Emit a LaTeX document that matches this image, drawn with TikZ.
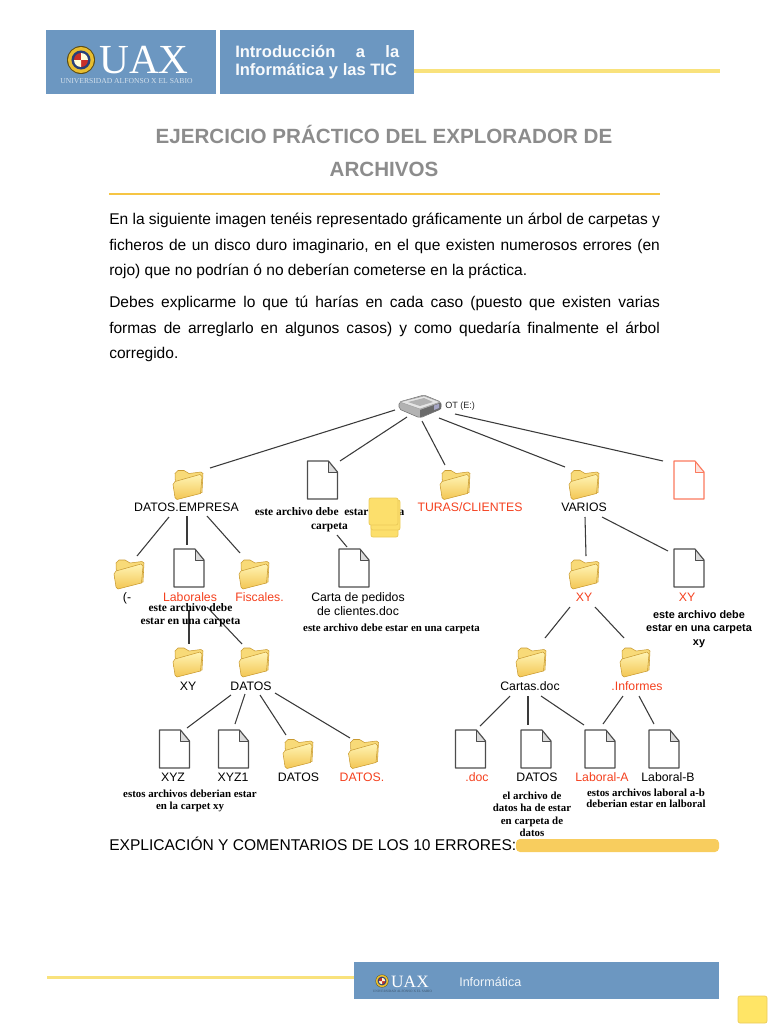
\documentclass[tikz,border=0pt]{standalone}
\usepackage{fontspec}
\setmainfont{Liberation Sans}
\newfontfamily\notefont{Liberation Serif}[Scale=1]
\definecolor{uaxblue}{HTML}{6C97C1}
\definecolor{barline}{HTML}{F9E27C}
\definecolor{rulegold}{HTML}{F6C544}
\definecolor{barorange}{HTML}{F8CD5E}
\definecolor{stickyfill}{HTML}{FCDF6C}
\definecolor{stickyedge}{HTML}{EBCB5A}
\definecolor{squarefill}{HTML}{FFE566}
\definecolor{titlegray}{HTML}{8C8C8C}
\definecolor{errred}{HTML}{F4401E}
\definecolor{errfile}{HTML}{FB7A5E}
\definecolor{linkgray}{HTML}{3A3A3A}
\definecolor{filegray}{HTML}{4D4D4D}
\definecolor{foldA}{HTML}{FFF4B4}
\definecolor{foldB}{HTML}{F3C653}
\definecolor{foldC}{HTML}{F8DA78}
\definecolor{foldE}{HTML}{C99A30}
\definecolor{sealgold}{HTML}{E8BE30}
\definecolor{sealnavy}{HTML}{27407A}
\definecolor{sealred}{HTML}{C8302A}
\tikzset{
  conn/.style={draw=linkgray,line width=0.8pt},
  lab/.style={anchor=base,inner sep=0pt,font=\fontsize{9.2pt}{11pt}\selectfont,text=black},
  redlab/.style={lab,text=errred},
  note/.style={anchor=base,inner sep=0pt,font=\notefont\bfseries\fontsize{8.15pt}{9pt}\selectfont,text=black},
  bignote/.style={anchor=base,inner sep=0pt,font=\notefont\bfseries\fontsize{8.6pt}{9pt}\selectfont,text=black},
  sansnote/.style={anchor=base,inner sep=0pt,font=\bfseries\fontsize{8.15pt}{9pt}\selectfont,text=black},
  headtext/.style={anchor=base west,inner sep=0pt,text=white!95!uaxblue,font=\bfseries\fontsize{12.4pt}{14pt}\selectfont},
  titletext/.style={anchor=base,inner sep=0pt,text=titlegray,font=\bfseries\fontsize{15.45pt}{17pt}\selectfont},
  bodytext/.style={anchor=north west,inner sep=0pt,text width=413pt,align=justify,font=\fontsize{11.65pt}{19.2pt}\selectfont},
  sticky/.style={fill=stickyfill,draw=stickyedge,line width=0.6pt,rounded corners=1.5pt},
  pics/folder/.style={code={
    \path[fill=foldC,draw=foldE,line width=0.4pt,line join=round]
      (-13,-11) -- (-10,-14) -- (-4,-14) -- (1,-11) -- (13,-12.5) -- (15,-11) -- (14,8) -- (-12,14) -- cycle;
    \path[top color=foldA,bottom color=foldB,draw=foldE,line width=0.4pt,line join=round]
      (-15,0) -- (-13,-3) -- (12,-10) -- (14,-8) -- (12.5,9) -- (-11,15) -- (-13,13) -- cycle;
  }},
  pics/docfile/.style={code={
    \path[fill=white,draw=#1,line width=0.85pt,line join=round]
      (-15,-19) -- (6,-19) -- (15,-8) -- (15,19) -- (-15,19) -- cycle;
    \path[fill=#1,fill opacity=0.2] (6,-19) -- (6,-8) -- (15,-8) -- cycle;
    \path[draw=#1,line width=0.6pt,line join=round] (6,-19) -- (6,-8) -- (15,-8);
  }},
  pics/seal/.style={code={
    \fill[black!60!sealgold] (0,0) circle[radius=#1];
    \fill[sealgold] (0,0) circle[radius=0.93*#1];
    \fill[sealnavy] (0,0) circle[radius=0.68*#1];
    \fill[sealred] (0,0) -- (0.5*#1,0) arc[start angle=0,end angle=90,radius=0.5*#1] -- cycle;
    \fill[white!85!yellow] (0,0) -- (0,0.5*#1) arc[start angle=90,end angle=180,radius=0.5*#1] -- cycle;
    \fill[sealred] (0,0) -- (-0.5*#1,0) arc[start angle=180,end angle=270,radius=0.5*#1] -- cycle;
    \fill[white!85!yellow] (0,0) -- (0,-0.5*#1) arc[start angle=270,end angle=360,radius=0.5*#1] -- cycle;
  }}
}
\begin{document}
\begin{tikzpicture}[x=0.75pt,y=-0.75pt]
\useasboundingbox (0,0) rectangle (768,1024);
% header
\fill[barline] (414,69) rectangle (720,73);
\node[fill=uaxblue,draw=none,minimum width=127.5pt,minimum height=48pt,inner sep=0pt] (headA) at (130.5,62) {};
\node[fill=uaxblue,draw=none,minimum width=145.5pt,minimum height=48pt,inner sep=0pt] (headB) at (317,62) {};
\pic at (81,60) {seal=14};
\node[anchor=base,inner sep=0pt,text=white,font=\notefont\fontsize{31pt}{31pt}\selectfont] (uaxA) at (144,73.5) {UAX};
\node[anchor=base,inner sep=0pt,text=white!70!uaxblue,font=\notefont\fontsize{5.7pt}{6pt}\selectfont] (uaxsubA) at (126.5,84) {UNIVERSIDAD ALFONSO X EL SABIO};
\node[headtext] (headL1) at (235,57.5) {\makebox[123pt][s]{Introducción\hfill a\hfill la}};
\node[headtext] (headL2) at (235,75.5) {Informática y las TIC};
% title
\node[titletext] (titleA) at (384,143) {EJERCICIO PRÁCTICO DEL EXPLORADOR DE};
\node[titletext] (titleB) at (384,176) {ARCHIVOS};
\fill[rulegold] (109,192.7) rectangle (660,195.3);
% body
\node[bodytext] (paraA) at (109,213)
 {En la siguiente imagen tenéis representado gráficamente un árbol de carpetas y\linebreak ficheros de un disco duro imaginario, en el que existen numerosos errores (en\linebreak rojo) que no podrían ó no deberían cometerse en la práctica.};
\node[bodytext] (paraB) at (109,296)
 {Debes explicarme lo que tú harías en cada caso (puesto que existen varias\linebreak formas de arreglarlo en algunos casos) y como quedaría finalmente el árbol\linebreak corregido.};
% drive
\path[fill=black!30,draw=black!55,line width=0.4pt,line join=round,rounded corners=1.5pt] (399,402) -- (424,395) -- (441,402) -- (441,409) -- (420,418) -- (399,409) -- cycle;
\path[fill=black!10,draw=black!40,line width=0.3pt,line join=round] (400,402) -- (424,396) -- (440,402) -- (420,409) -- cycle;
\path[fill=black!58] (420,410) -- (441,402.5) -- (441,409) -- (420,417.5) -- cycle;
\path[fill=black!30] (408,402) -- (424,398) -- (433,402) -- (420,406) -- cycle;
\path[fill=blue!35!black!35] (434,405.5) -- (439,403.8) -- (439,408) -- (434,410) -- cycle;
\node[anchor=base west,inner sep=0pt,font=\fontsize{6.8pt}{8pt}\selectfont,text=black!85] (driveLab) at (445,408.5) {OT (E:)};
% connectors
\coordinate (dA) at (395,410); \coordinate (eT) at (210,468); \draw[conn] (dA) -- (eT);
\coordinate (dB) at (407,417); \coordinate (fT) at (340,461); \draw[conn] (dB) -- (fT);
\coordinate (dC) at (422,421); \coordinate (tT) at (445,465); \draw[conn] (dC) -- (tT);
\coordinate (dD) at (439,418); \coordinate (vT) at (565,467); \draw[conn] (dD) -- (vT);
\coordinate (dE) at (455,414); \coordinate (rT) at (663,461); \draw[conn] (dE) -- (rT);
\coordinate (eA) at (169,517); \coordinate (pT) at (137,556); \draw[conn] (eA) -- (pT);
\coordinate (eB) at (187,516); \coordinate (lT) at (187,545); \draw[conn] (eB) -- (lT);
\coordinate (eC) at (207,516); \coordinate (sT) at (240,553); \draw[conn] (eC) -- (sT);
\coordinate (nA) at (337,535); \coordinate (cT) at (347,547); \draw[conn] (nA) -- (cT);
\coordinate (vA) at (585,517); \coordinate (xT) at (586,556); \draw[conn] (vA) -- (xT);
\coordinate (vB) at (602,517); \coordinate (yT) at (668,551); \draw[conn] (vB) -- (yT);
\coordinate (xA) at (570,607); \coordinate (aT) at (545,638); \draw[conn] (xA) -- (aT);
\coordinate (xB) at (595,607); \coordinate (iT) at (624,638); \draw[conn] (xB) -- (iT);
\coordinate (lA) at (189,610); \coordinate (gT) at (189,644); \draw[conn] (lA) -- (gT);
\coordinate (lB) at (207,607); \coordinate (hT) at (242,644); \draw[conn] (lB) -- (hT);
\coordinate (hA) at (231,695); \coordinate (zT) at (187,728); \draw[conn] (hA) -- (zT);
\coordinate (hB) at (245,694); \coordinate (wT) at (235,724); \draw[conn] (hB) -- (wT);
\coordinate (hC) at (260,695); \coordinate (jT) at (286,735); \draw[conn] (hC) -- (jT);
\coordinate (hD) at (275,693); \coordinate (kT) at (350,738); \draw[conn] (hD) -- (kT);
\coordinate (aA) at (510,696); \coordinate (mT) at (480,726); \draw[conn] (aA) -- (mT);
\coordinate (aB) at (528,696); \coordinate (oT) at (528,725); \draw[conn] (aB) -- (oT);
\coordinate (aC) at (541,696); \coordinate (qT) at (584,725); \draw[conn] (aC) -- (qT);
\coordinate (iA) at (623,696); \coordinate (qU) at (603,724); \draw[conn] (iA) -- (qU);
\coordinate (iB) at (639,696); \coordinate (uT) at (654,724); \draw[conn] (iB) -- (uT);
% icons
\pic at (188,484.5) {folder};
\pic at (322.5,480) {docfile=filegray};
\pic at (455,484.5) {folder};
\pic at (584,484.5) {folder};
\pic at (689,480) {docfile=errfile};
\pic at (129,574) {folder};
\pic at (189,568) {docfile=filegray};
\pic at (254,574) {folder};
\pic at (354,568) {docfile=filegray};
\pic at (584,574) {folder};
\pic at (689,568) {docfile=filegray};
\pic at (188,662) {folder};
\pic at (254,662) {folder};
\pic at (531,662) {folder};
\pic at (635,662) {folder};
\pic at (174.5,749) {docfile=filegray};
\pic at (233.5,749) {docfile=filegray};
\pic at (298,753.5) {folder};
\pic at (363.5,753.5) {folder};
\pic at (470.5,749) {docfile=filegray};
\pic at (536,749) {docfile=filegray};
\pic at (600,749) {docfile=filegray};
\pic at (664,749) {docfile=filegray};
% labels
\node[lab] (lEmpresa) at (186.5,511.5) {DATOS.EMPRESA};
\node[redlab] (lTuras) at (470,511.5) {TURAS/CLIENTES};
\node[lab] (lVarios) at (584,511.5) {VARIOS};
\node[lab] (lParen) at (127,601.5) {(-};
\node[redlab] (lLaborales) at (190,601.5) {Laborales};
\node[redlab] (lFiscales) at (259.5,601.5) {Fiscales.};
\node[lab] (lCartaA) at (358,601.5) {Carta de pedidos};
\node[lab] (lCartaB) at (358,615.5) {de clientes.doc};
\node[redlab] (lXYa) at (584,601.5) {XY};
\node[redlab] (lXYb) at (687,601.5) {XY};
\node[lab] (lXY) at (188,690.5) {XY};
\node[lab] (lDatosA) at (251,690.5) {DATOS};
\node[lab] (lCartas) at (530,690.5) {Cartas.doc};
\node[redlab] (lInformes) at (637,690.5) {.Informes};
\node[lab] (lXYZ) at (173,781.5) {XYZ};
\node[lab] (lXYZa) at (233,781.5) {XYZ1};
\node[lab] (lDatosB) at (298.5,781.5) {DATOS};
\node[redlab] (lDatosC) at (362,781.5) {DATOS.};
\node[redlab] (lDoc) at (477,781.5) {.doc};
\node[lab] (lDatosD) at (537,781.5) {DATOS};
\node[redlab] (lLabA) at (602,781.5) {Laboral-A};
\node[lab] (lLabB) at (668,781.5) {Laboral-B};
% notes
\node[bignote] (nFileA) at (329.5,515.5) {este archivo debe\ \ estar en una};
\node[bignote] (nFileB) at (329.5,529.5) {carpeta};
\node[bignote] (nLabA) at (190.5,611) {este archivo debe};
\node[bignote] (nLabB) at (190.5,624) {estar en una carpeta};
\node[note] (nCarta) at (391.5,631.5) {este archivo debe estar en una carpeta};
\node[sansnote] (nXYa) at (699,618.5) {este archivo debe};
\node[sansnote] (nXYb) at (699,631.5) {estar en una carpeta};
\node[sansnote] (nXYc) at (699,645) {xy};
\node[note] (nZa) at (190,797) {estos archivos deberian estar};
\node[note] (nZb) at (190,809.5) {en la carpet xy};
\node[note] (nDa) at (532,799) {el archivo de};
\node[note] (nDb) at (532,811.5) {datos ha de estar};
\node[note] (nDc) at (532,824) {en carpeta de};
\node[note] (nDd) at (532,836.5) {datos};
\node[note] (nLa) at (646,796) {estos archivos laboral a-b};
\node[note] (nLb) at (646,807.5) {deberian estar en lalboral};
% sticky
\path[sticky] (371,505) rectangle (398,537);
\path[sticky] (371,500) rectangle (400,530);
\path[sticky] (369,498) rectangle (398,525);
% bottom heading
\node[anchor=base west,inner sep=0pt,font=\fontsize{11.67pt}{13pt}\selectfont] (expl) at (109,850) {EXPLICACIÓN Y COMENTARIOS DE LOS 10 ERRORES:};
\fill[barorange,rounded corners=3pt] (516,839) rectangle (719,852);
% footer
\fill[barline] (47,975.5) rectangle (354,978.5);
\node[fill=uaxblue,draw=none,minimum width=274pt,minimum height=28pt,inner sep=0pt] (foot) at (536.5,980.5) {};
\pic at (382,981) {seal=6.5};
\node[anchor=base,inner sep=0pt,text=white,font=\notefont\fontsize{13pt}{14pt}\selectfont] (uaxB) at (410,987) {UAX};
\node[anchor=base,inner sep=0pt,text=black!45!uaxblue,font=\notefont\fontsize{2.55pt}{3pt}\selectfont] (uaxsubB) at (402.5,992.5) {UNIVERSIDAD ALFONSO X EL SABIO};
\node[anchor=base west,inner sep=0pt,text=white!90!uaxblue,font=\fontsize{9.4pt}{11pt}\selectfont] (footL) at (459,986) {Informática};
\path[fill=squarefill,draw=stickyedge,line width=0.5pt,rounded corners=1.5pt] (738,996) rectangle (767,1023);
\end{tikzpicture}
\end{document}
